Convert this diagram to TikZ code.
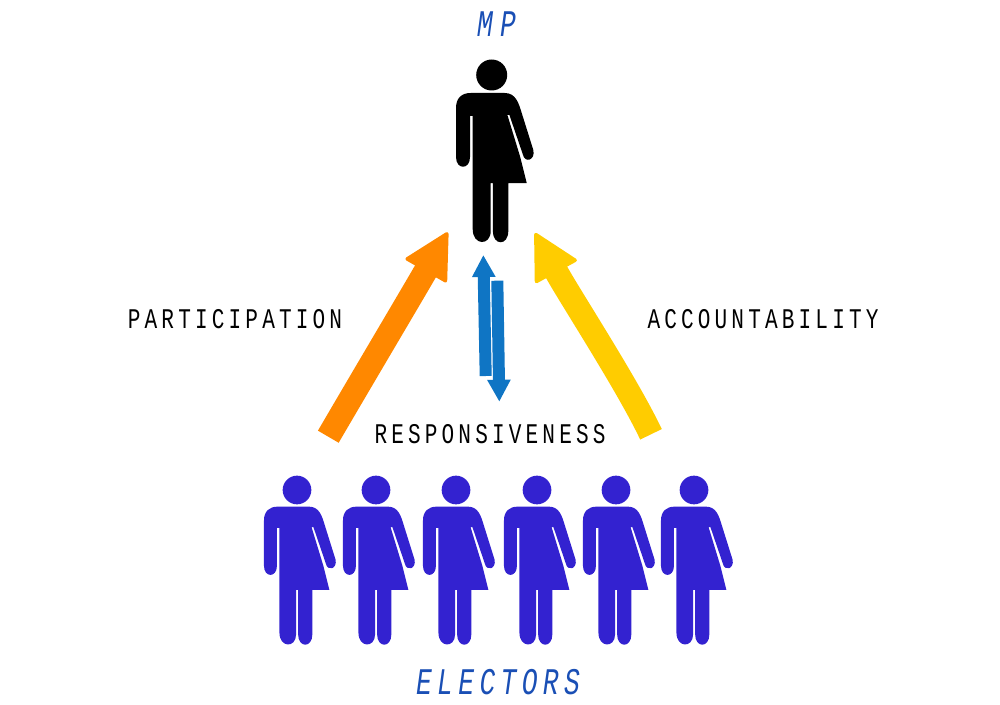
\documentclass[tikz,border=0pt]{standalone}
\usepackage{fontspec}
\usetikzlibrary{arrows.meta}
\newfontfamily\tracklabel[FakeStretch=0.74,LetterSpace=14.6]{Liberation Mono}
\newfontfamily\tracktitle[FakeStretch=0.7,LetterSpace=14.2]{Liberation Mono Italic}
\definecolor{titleblue}{HTML}{1A4FB5}
\definecolor{crowdblue}{HTML}{3322D0}
\definecolor{flowblue}{HTML}{0F75C4}
\definecolor{floworange}{HTML}{FF8800}
\definecolor{flowyellow}{HTML}{FFCC00}
\tikzset{
  person/.pic={
    \fill (0,0) circle (.155);
    \fill (-.21,-.18) -- (.13,-.18)
      .. controls (.24,-.18) and (.27,-.28) .. (.30,-.38)
      -- (.416,-.75)
      .. controls (.44,-.85) and (.33,-.89) .. (.31,-.79)
      -- (.177,-.40) -- (.157,-.40) -- (.285,-.82) -- (.35,-1.08) -- (.166,-1.08) -- (.166,-1.56)
      .. controls (.166,-1.71) and (.012,-1.71) .. (.012,-1.56)
      -- (.012,-1.08) -- (-.01,-1.08) -- (-.01,-1.56)
      .. controls (-.01,-1.71) and (-.19,-1.71) .. (-.19,-1.54)
      -- (-.19,-.41) -- (-.217,-.41) -- (-.217,-.82)
      .. controls (-.217,-.95) and (-.357,-.95) .. (-.357,-.82)
      -- (-.357,-.33)
      .. controls (-.357,-.23) and (-.30,-.18) .. (-.21,-.18) -- cycle;
  },
  wideflow/.style={
    line width=.24cm,
    -{Triangle[length=.47cm,width=.49cm,round,line width=1pt]}
  },
  thinflow/.style={
    flowblue,
    line width=.12cm,
    -{Triangle[length=.22cm,width=.22cm]}
  },
  wordlabel/.style={font=\tracklabel\fontsize{8.1}{9}\selectfont,inner sep=0pt},
  titlelabel/.style={font=\tracktitle\fontsize{10.7}{12}\selectfont,text=titleblue,inner sep=0pt}
}
\begin{document}
\begin{tikzpicture}
  \useasboundingbox (0,0) rectangle (10,7.04);
  \pic (mp) at (4.917,6.29) {person};
  \foreach \cx [count=\ci] in {2.97,3.76,4.56,5.37,6.16,6.94}{
    \pic[crowdblue,scale=.925] (elector\ci) at (\cx,2.14) {person};
  }
  % arrows
  \coordinate (orangetail) at (3.283,2.673);
  \coordinate (orangebendA) at (3.633,3.273);
  \coordinate (orangebendB) at (4.167,4.173);
  \coordinate (orangetip) at (4.477,4.717);
  \coordinate (yellowtail) at (6.51,2.697);
  \coordinate (yellowbendA) at (6.27,3.20);
  \coordinate (yellowbendB) at (5.70,4.073);
  \coordinate (yellowtip) at (5.35,4.71);
  \coordinate (uptail) at (4.857,3.28);
  \coordinate (uptip) at (4.833,4.49);
  \coordinate (downtail) at (4.973,4.233);
  \coordinate (downtip) at (4.993,3.023);
  \draw[wideflow,floworange] (orangetail) .. controls (orangebendA) and (orangebendB) .. (orangetip);
  \draw[wideflow,flowyellow] (yellowtail) .. controls (yellowbendA) and (yellowbendB) .. (yellowtip);
  \draw[thinflow] (uptail) -- (uptip);
  \draw[thinflow] (downtail) -- (downtip);
  % labels
  \node[titlelabel] (mplabel) at (4.965,6.80) {M\kern2pt P};
  \node[titlelabel] (electorslabel) at (4.98,0.22) {ELECTORS};
  \node[wordlabel] (participation) at (2.35,3.85) {PARTICIPATION};
  \node[wordlabel] (accountability) at (7.63,3.85) {ACCOUNTABILITY};
  \node[wordlabel] (responsiveness) at (4.90,2.70) {RESPONSIVENESS};
\end{tikzpicture}
\end{document}
